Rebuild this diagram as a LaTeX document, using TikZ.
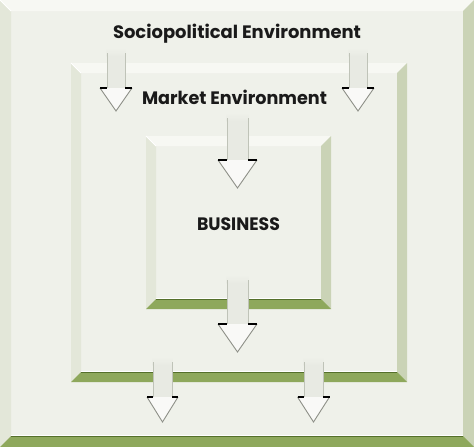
\documentclass[tikz,border=0pt]{standalone}
\usepackage{fontspec}
\setmainfont{Poppins}
\usepackage{graphicx}
\definecolor{face}{HTML}{EFF1EA}
\definecolor{topbev}{HTML}{F7F8F3}
\definecolor{leftbev}{HTML}{E3E7D9}
\definecolor{rightbev}{HTML}{CAD3B6}
\definecolor{botbev}{HTML}{8EA85C}
\definecolor{botdark}{HTML}{55702B}
\definecolor{shaftc}{HTML}{E8EAE3}
\definecolor{shaftl}{HTML}{BFC3B8}
\definecolor{headl}{HTML}{8E9088}
\definecolor{txt}{HTML}{1A1A1A}
\newcommand\bframe[5]{%
  \fill[face] (#1,#2) rectangle (#3,#4);
  \fill[topbev] (#1,#2) -- (#3,#2) -- (#3-#5,#2+#5) -- (#1+#5,#2+#5) -- cycle;
  \fill[leftbev] (#1,#2) -- (#1+#5,#2+#5) -- (#1+#5,#4-#5) -- (#1,#4) -- cycle;
  \fill[rightbev] (#3,#2) -- (#3,#4) -- (#3-#5,#4-#5) -- (#3-#5,#2+#5) -- cycle;
  \fill[botbev] (#1,#4) -- (#3,#4) -- (#3-#5,#4-#5) -- (#1+#5,#4-#5) -- cycle;
  \draw[botdark, line width=1.3pt] (#1+#5,#4-#5+0.6) -- (#3-#5,#4-#5+0.6);
  \draw[white, line width=1pt] (#1+#5,#4-#5-0.6) -- (#3-#5,#4-#5-0.6);
  \draw[white, line width=0.8pt] (#1,#2) -- (#1+#5,#2+#5);
}
\newcommand\darrow[6]{%
  \fill[shaftc] (#1-#5,#2+8) rectangle (#1+#5,#3);
  \shade[top color=face, bottom color=shaftc] (#1-#5-0.5,#2) rectangle (#1+#5+0.5,#2+8.2);
  \draw[shaftl, line width=0.8pt] (#1-#5,#2+5) -- (#1-#5,#3) (#1+#5,#2+5) -- (#1+#5,#3);
  \fill[face!40!white] (#1-#6,#3) -- (#1+#6,#3) -- (#1,#4) -- cycle;
  \draw[headl, line width=0.9pt] (#1-#6,#3) -- (#1,#4) -- (#1+#6,#3);
  \draw[black, line width=1.6pt] (#1-#6,#3) -- (#1-#5,#3) (#1+#5,#3) -- (#1+#6,#3);
}
\tikzset{lbl/.style={text=txt, inner sep=1pt, font=\fontsize{18}{22}\selectfont\bfseries}}
\begin{document}
\begin{tikzpicture}[x=1pt, y=-1pt]
\useasboundingbox (0,0) rectangle (474,447);
\bframe{0}{0}{474}{447}{11}
\bframe{71}{63}{407}{382}{10}
\bframe{146}{136}{331}{309}{10}
\darrow{116}{48}{88}{111}{9}{16}
\darrow{358}{48}{88}{111}{9}{16}
\darrow{237.5}{113}{160}{188}{10.5}{19.5}
\darrow{237.5}{275}{324}{352}{10.5}{19.5}
\darrow{162.5}{357}{397}{422}{9.5}{15.5}
\darrow{313.5}{357}{397}{422}{9.5}{16}
\node[lbl] (socio) at (237,34) {\resizebox{248pt}{\height}{Sociopolitical Environment}};
\node[lbl] (market) at (234.5,97.5) {\resizebox{185pt}{\height}{Market Environment}};
\node[lbl] (business) at (238.5,224.5) {\resizebox{83pt}{\height}{BUSINESS}};
\end{tikzpicture}
\end{document}
